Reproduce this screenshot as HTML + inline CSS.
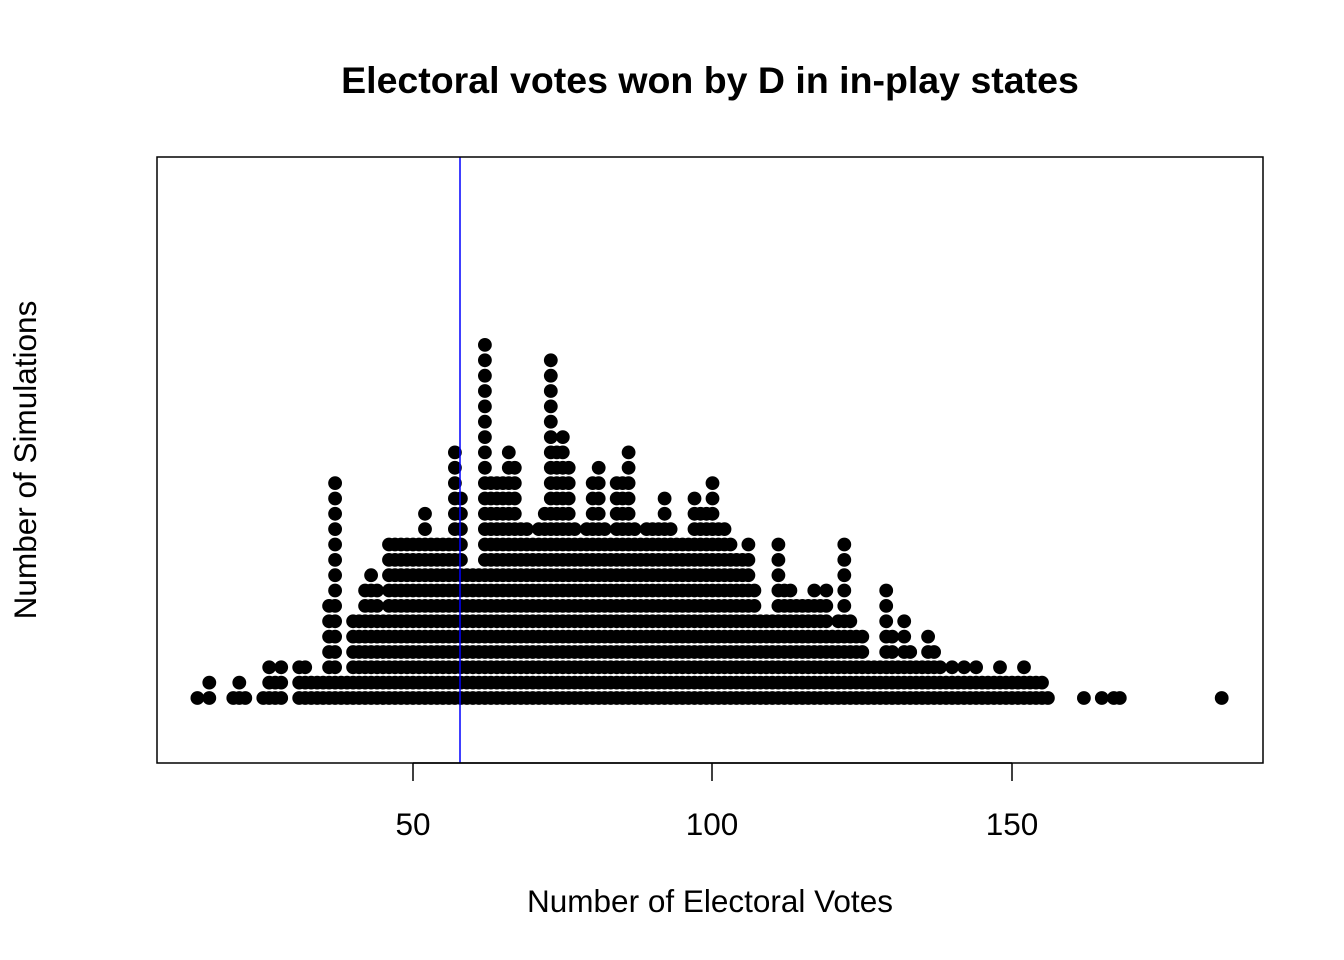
<!DOCTYPE html>
<html><head><meta charset="utf-8"><style>
html,body{margin:0;padding:0;background:#fff;}
svg{display:block;}
text{font-family:"Liberation Sans",Arial,sans-serif;fill:#000;}
</style></head><body>
<svg id="s" xmlns="http://www.w3.org/2000/svg" width="1344" height="960" viewBox="0 0 1344 960">
<rect width="1344" height="960" fill="#fff"/>
<g id="dots"></g>
<line x1="460" y1="157" x2="460" y2="763" stroke="#0000ff" stroke-width="1.5"/>
<rect x="157" y="157" width="1106" height="606" fill="none" stroke="#000" stroke-width="1.5"/>
<line x1="413" y1="763" x2="1012" y2="763" stroke="#000" stroke-width="1.5"/>
<line x1="413" y1="763" x2="413" y2="781" stroke="#000" stroke-width="1.5"/>
<line x1="712" y1="763" x2="712" y2="781" stroke="#000" stroke-width="1.5"/>
<line x1="1012" y1="763" x2="1012" y2="781" stroke="#000" stroke-width="1.5"/>
<text x="413" y="835" font-size="31.5" text-anchor="middle">50</text>
<text x="712" y="835" font-size="31.5" text-anchor="middle">100</text>
<text x="1012" y="835" font-size="31.5" text-anchor="middle">150</text>
<text x="710" y="912" font-size="31.5" text-anchor="middle">Number of Electoral Votes</text>
<text x="710" y="93" font-size="37.5" font-weight="bold" text-anchor="middle">Electoral votes won by D in in-play states</text>
<text transform="translate(36,460) rotate(-90)" font-size="31.5" text-anchor="middle">Number of Simulations</text>
</svg>
<script>
var h={14:1,16:2,20:1,21:2,22:1,25:1,26:3,27:2,28:3,31:3,32:3,33:2,34:2,35:2,36:7,37:15,38:2,39:2,40:6,41:6,42:8,43:9,44:8,45:6,
46:11,47:11,48:11,49:11,50:11,51:11,52:13,53:11,54:11,55:11,56:11,57:17,58:14,59:9,60:9,61:9,62:24,63:15,64:15,65:15,66:17,67:16,68:12,69:12,70:11,
71:12,72:13,73:23,74:17,75:18,76:16,77:12,78:11,79:12,80:15,81:16,82:12,83:11,84:15,85:15,86:17,87:12,88:11,89:12,90:12,91:12,92:14,93:12,94:11,95:11,96:11,
97:14,98:13,99:13,100:15,101:12,102:12,103:11,104:10,105:10,106:11,107:8,108:6,109:6,110:6,111:11,112:8,113:8,114:7,115:7,116:7,117:8,118:7,119:8,120:5,121:6,
122:11,123:6,124:5,125:5,126:3,127:3,128:3,129:8,130:5,131:3,132:6,133:4,134:3,135:3,136:5,137:4,138:3,139:2,140:3,141:2,142:3,143:2,144:3,145:2,146:2,147:2,
148:3,149:2,150:2,151:2,152:3,153:2,154:2,155:2,156:1,162:1,165:1,167:1,168:1,185:1};
var g=document.getElementById('dots'),s='';
for(var v in h){var x=413+(v-50)*5.99;for(var k=0;k<h[v];k++){s+='<circle cx="'+x.toFixed(1)+'" cy="'+(698-k*15.35).toFixed(1)+'" r="6.9" fill="#000"/>';}}
g.innerHTML=s;
</script>
</body></html>
